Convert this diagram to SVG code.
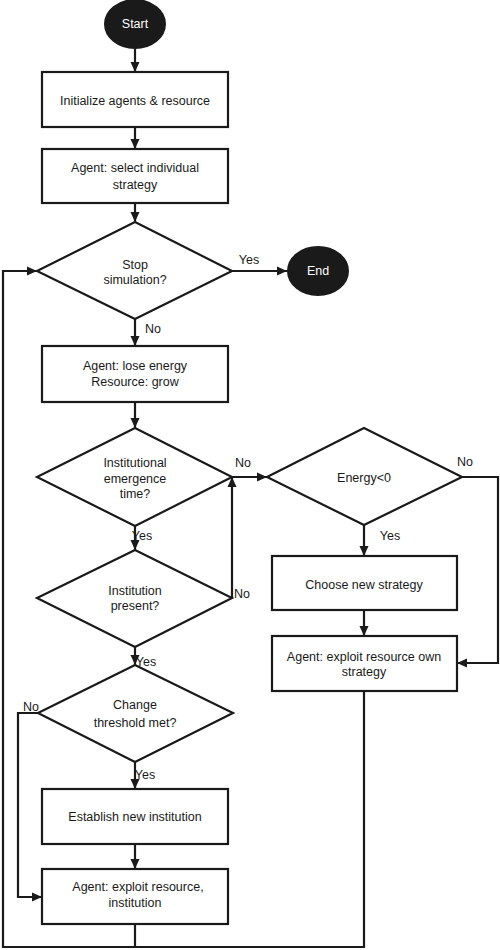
<svg xmlns="http://www.w3.org/2000/svg" width="500" height="950" viewBox="0 0 500 950">
<style>
.n{fill:#fff;stroke:#1a1a1a;stroke-width:2.2}
.t{fill:#1a1a1a;stroke:#1a1a1a;stroke-width:2}
text{font-family:"Liberation Sans",Arial,sans-serif;font-size:12.5px;fill:#1a1a1a;text-anchor:middle}
.w{fill:#fff}
.l{text-anchor:start}
.c{fill:none;stroke:#1a1a1a;stroke-width:2.2}
</style>
<defs>
<marker id="a" viewBox="0 0 10 10" refX="10" refY="5" markerWidth="10" markerHeight="10" markerUnits="userSpaceOnUse" orient="auto">
<path d="M0,0.5 L10,5 L0,9.5 z" fill="#1a1a1a"/>
</marker>
</defs>
<g id="connectors">
<line class="c" x1="135" y1="49" x2="135" y2="72" marker-end="url(#a)"/>
<line class="c" x1="135" y1="127" x2="135" y2="149" marker-end="url(#a)"/>
<line class="c" x1="135" y1="203" x2="135" y2="222" marker-end="url(#a)"/>
<line class="c" x1="232" y1="271" x2="287" y2="271" marker-end="url(#a)"/>
<line class="c" x1="135" y1="319" x2="135" y2="346" marker-end="url(#a)"/>
<line class="c" x1="135" y1="402" x2="135" y2="428" marker-end="url(#a)"/>
<line class="c" x1="135" y1="526" x2="135" y2="550" marker-end="url(#a)"/>
<line class="c" x1="232" y1="598" x2="232" y2="477" marker-end="url(#a)"/>
<line class="c" x1="232" y1="477" x2="267" y2="477" marker-end="url(#a)"/>
<line class="c" x1="364" y1="525" x2="364" y2="556" marker-end="url(#a)"/>
<line class="c" x1="364" y1="610" x2="364" y2="636" marker-end="url(#a)"/>
<polyline class="c" points="462,477 498,477 498,663 457,663" marker-end="url(#a)"/>
<line class="c" x1="135" y1="647" x2="135" y2="665" marker-end="url(#a)"/>
<line class="c" x1="135" y1="762" x2="135" y2="789" marker-end="url(#a)"/>
<line class="c" x1="135" y1="844" x2="135" y2="869" marker-end="url(#a)"/>
<polyline class="c" points="38,713 18,713 18,897 42,897" marker-end="url(#a)"/>
<line class="c" x1="135" y1="924" x2="135" y2="947"/>
<polyline class="c" points="364,691 364,947 3,947 3,271 37,271" marker-end="url(#a)"/>
<text x="249" y="264">Yes</text>
<text x="153" y="333">No</text>
<text x="243" y="467">No</text>
<text x="142" y="540">Yes</text>
<text class="l" x="234" y="598">No</text>
<text x="146" y="666">Yes</text>
<text x="31" y="711">No</text>
<text x="145" y="779">Yes</text>
<text x="465" y="466">No</text>
<text x="390" y="540">Yes</text>
</g>
<g id="start"><ellipse class="t" cx="135" cy="24" rx="30" ry="24"/><text class="w" x="135" y="28">Start</text></g>
<g id="init"><rect class="n" x="42" y="72" width="186" height="55"/><text x="135" y="105">Initialize agents &amp; resource</text></g>
<g id="select"><rect class="n" x="42" y="149" width="186" height="54"/><text x="135" y="172">Agent: select individual</text><text x="135" y="189">strategy</text></g>
<g id="stop"><polygon class="n" points="135,222 232,271 135,319 37,271"/><text x="135" y="269">Stop</text><text x="135" y="284">simulation?</text></g>
<g id="end"><ellipse class="t" cx="318" cy="271" rx="30" ry="24"/><text class="w" x="318" y="275">End</text></g>
<g id="lose"><rect class="n" x="42" y="346" width="186" height="56"/><text x="135" y="370">Agent: lose energy</text><text x="135" y="386">Resource: grow</text></g>
<g id="emergence"><polygon class="n" points="135,428 232,477 135,526 37,477"/><text x="135" y="467">Institutional</text><text x="135" y="483">emergence</text><text x="135" y="498">time?</text></g>
<g id="present"><polygon class="n" points="135,550 232,598 135,647 37,598"/><text x="135" y="595">Institution</text><text x="135" y="610">present?</text></g>
<g id="threshold"><polygon class="n" points="135,665 233,713 135,762 38,713"/><text x="135" y="709">Change</text><text x="135" y="727">threshold met?</text></g>
<g id="establish"><rect class="n" x="42" y="789" width="186" height="55"/><text x="135" y="821">Establish new institution</text></g>
<g id="exploitInst"><rect class="n" x="42" y="869" width="186" height="55"/><text x="138" y="891">Agent: exploit resource,</text><text x="135" y="907">institution</text></g>
<g id="energy"><polygon class="n" points="364,428 462,477 364,525 267,477"/><text x="364" y="482">Energy&lt;0</text></g>
<g id="choose"><rect class="n" x="272" y="556" width="185" height="54"/><text x="364" y="589">Choose new strategy</text></g>
<g id="exploitOwn"><rect class="n" x="272" y="636" width="185" height="55"/><text x="364" y="661">Agent: exploit resource own</text><text x="364" y="676">strategy</text></g>
</svg>
